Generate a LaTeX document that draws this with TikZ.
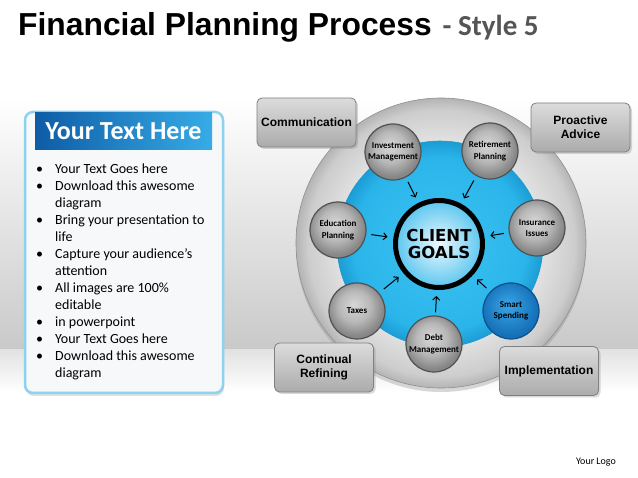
\documentclass[tikz,border=0pt]{standalone}
\usepackage{fontspec}
\setmainfont{Carlito}
\newfontfamily\arialfont{Liberation Sans}
\newfontfamily\heavyfont{DejaVu Sans}
\usetikzlibrary{shadows,arrows.meta,calc}

\definecolor{ballhi}{HTML}{D6D6D6}
\definecolor{ballmid}{HTML}{B8B8B8}
\definecolor{balledge}{HTML}{878787}
\definecolor{ballline}{HTML}{505050}
\definecolor{ringhi}{HTML}{EFEFEF}
\definecolor{ringmid}{HTML}{E0E0E0}
\definecolor{ringedge}{HTML}{B4B4B4}
\definecolor{bluehi}{HTML}{3EC2F2}
\definecolor{bluemid}{HTML}{2AB5EA}
\definecolor{blueedge}{HTML}{1C9CD4}
\definecolor{goalhi}{HTML}{ECF9FE}
\definecolor{goaledge}{HTML}{5CC6EF}
\definecolor{smarthi}{HTML}{3AA6E8}
\definecolor{smartedge}{HTML}{1570B8}
\definecolor{smartline}{HTML}{0C4F8A}
\definecolor{boxtop}{HTML}{DCDCDC}
\definecolor{boxbot}{HTML}{ABABAB}
\definecolor{boxline}{HTML}{808080}
\definecolor{panelline}{HTML}{8DD3F0}
\definecolor{panelfill}{HTML}{F6F8F9}
\definecolor{headleft}{HTML}{0E5CA6}
\definecolor{headright}{HTML}{36ACE6}
\definecolor{stylegray}{HTML}{555555}
\definecolor{bandbot}{HTML}{C9C9C9}
\definecolor{reflect}{HTML}{E2E2E2}
\definecolor{ringmix}{HTML}{CDCDCD}

\pgfdeclareradialshading{grayball}{\pgfpoint{-3bp}{6bp}}{color(0bp)=(ballhi); color(14bp)=(ballmid); color(25bp)=(balledge); color(50bp)=(balledge)}
\pgfdeclareradialshading{smartball}{\pgfpoint{-3bp}{6bp}}{color(0bp)=(smarthi); color(25bp)=(smartedge); color(50bp)=(smartedge)}
\pgfdeclareradialshading{bigring}{\pgfpoint{0bp}{0bp}}{color(0bp)=(ringhi); color(18bp)=(ringmid); color(23bp)=(ringmix); color(25bp)=(ringedge); color(50bp)=(ringedge)}
\pgfdeclareradialshading{bluedisc}{\pgfpoint{0bp}{0bp}}{color(0bp)=(bluehi); color(21bp)=(bluemid); color(25bp)=(blueedge); color(50bp)=(blueedge)}
\pgfdeclareradialshading{goaldisc}{\pgfpoint{0bp}{0bp}}{color(0bp)=(goalhi); color(25bp)=(goaledge); color(50bp)=(goaledge)}

\tikzset{
  ball/.style={circle, minimum size=56pt, inner sep=0pt, draw=ballline, line width=1.2pt, shade, shading=grayball, align=center, font=\bfseries\fontsize{9}{11.5}\selectfont},
  smartstyle/.style={ball, draw=smartline, shading=smartball},
  gbox/.style={rounded corners=5pt, draw=boxline, line width=0.8pt, top color=boxtop, bottom color=boxbot, align=center, inner sep=0pt, minimum width=99pt, minimum height=49pt, font=\arialfont\bfseries\fontsize{12}{14}\selectfont, drop shadow={opacity=0.3, shadow xshift=2pt, shadow yshift=-2pt}},
  arr/.style={-{Straight Barb[length=3.5pt,width=7pt]}, line width=1pt, shorten <=5pt, shorten >=6pt}
}

\begin{document}
\begin{tikzpicture}[x=1pt,y=-1pt]
\useasboundingbox (0,0) rectangle (638,478);
\fill[white] (0,0) rectangle (638,478);
% background band
\shade[top color=white, bottom color=bandbot] (0,98) rectangle (638,350);
\shade[top color=reflect, bottom color=white] (0,350) rectangle (638,392);

% title
\node[anchor=base west, inner sep=0pt] (title) at (18,36) {{\arialfont\bfseries\fontsize{31.8}{32}\selectfont Financial Planning Process}\hspace{11pt}{\color{stylegray}\bfseries\fontsize{29}{29}\selectfont - Style 5}};

% left panel
\node[draw=panelline, line width=2.5pt, fill=panelfill, rounded corners=8pt, minimum width=198pt, minimum height=281pt, drop shadow={opacity=0.25, shadow xshift=1pt, shadow yshift=-3pt}] (panel) at (124,252.5) {};
\node[left color=headleft, right color=headright, minimum width=177pt, minimum height=37pt, inner sep=0pt, text=white, font=\bfseries\fontsize{26}{26}\selectfont] (head) at (123.5,131.5) {Your Text Here};
\node[anchor=north west, inner sep=0pt, align=left, font=\fontsize{14}{17}\selectfont] (list) at (36,164) {%
\makebox[19pt][l]{•}Your Text Goes here\\
\makebox[19pt][l]{•}Download this awesome\\
\hspace*{19pt}diagram\\
\makebox[19pt][l]{•}Bring your presentation to\\
\hspace*{19pt}life\\
\makebox[19pt][l]{•}Capture your audience’s\\
\hspace*{19pt}attention\\
\makebox[19pt][l]{•}All images are 100\%\\
\hspace*{19pt}editable\\
\makebox[19pt][l]{•}in powerpoint\\
\makebox[19pt][l]{•}Your Text Goes here\\
\makebox[19pt][l]{•}Download this awesome\\
\hspace*{19pt}diagram};

% big ring
\node[circle, minimum size=290pt, inner sep=0pt, draw=ringedge!80!black, line width=0.6pt, shade, shading=bigring, drop shadow={opacity=0.3, shadow xshift=0pt, shadow yshift=-4pt}] (ring) at (441,243) {};
\node[circle, minimum size=206pt, inner sep=0pt, draw=blueedge, line width=0.6pt, shade, shading=bluedisc] (disc) at (440,244) {};

% center
\node[circle, minimum size=87pt, inner sep=0pt, draw=black, line width=5pt, shade, shading=goaldisc, align=center, font=\heavyfont\bfseries\fontsize{16.5}{19.5}\selectfont] (goal) at (439,244) {\raisebox{-3pt}{\shortstack{CLIENT\\[1pt]GOALS}}};

% satellites
\node[ball] (inv) at (393,152) {Investment\\Management};
\node[ball] (ret) at (490,151) {Retirement\\Planning};
\node[ball] (edu) at (338,230) {Education\\Planning};
\node[ball] (ins) at (537,228) {Insurance\\Issues};
\node[ball] (tax) at (357,311) {Taxes};
\node[ball] (debt) at (434,344) {Debt\\Management};
\node[smartstyle] (smart) at (511,311) {Smart\\Spending};

% arrows
\draw[arr] (inv) -- (goal);
\draw[arr] (ret) -- (goal);
\draw[arr] (edu) -- (goal);
\draw[arr] (ins) -- (goal);
\draw[arr, shorten <=6pt] (tax) -- (goal);
\draw[arr, shorten <=3pt] (debt) -- (goal);
\draw[arr] (smart) -- (goal);

% boxes
\node[gbox] (comm) at (306.5,122.5) {Communication};
\node[gbox] (pro) at (580.5,127.5) {Proactive\\Advice};
\node[gbox] (cont) at (324,367.5) {Continual\\Refining};
\node[gbox] (impl) at (549,371) {Implementation};

% logo
\node[font=\fontsize{10}{12}\selectfont] (logo) at (596,462) {Your Logo};
\end{tikzpicture}
\end{document}
